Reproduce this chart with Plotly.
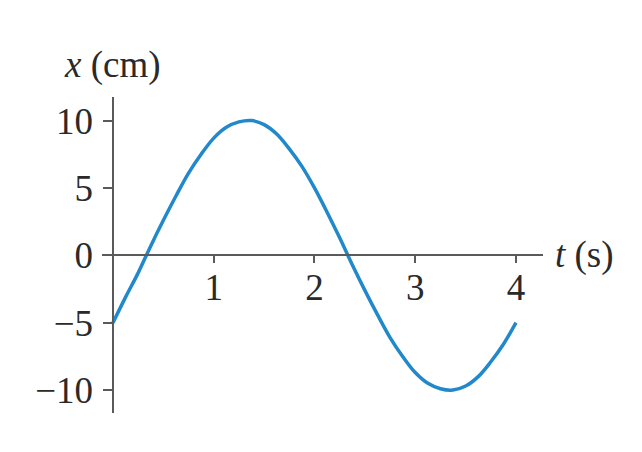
import plotly.graph_objects as go

t_s = [0, 0.125, 0.25, 0.375, 0.5, 0.625, 0.75, 0.875, 1.0,
       1.125, 1.25, 1.375, 1.5, 1.625, 1.75, 1.875, 2.0,
       2.125, 2.25, 2.375, 2.5, 2.625, 2.75, 2.875, 3.0,
       3.125, 3.25, 3.375, 3.5, 3.625, 3.75, 3.875, 4.0]
x_cm = [-5.0, -3.1, -1.3, 0.7, 2.6, 4.4, 6.1, 7.5, 8.7,
        9.5, 9.9, 10.0, 9.7, 9.0, 7.9, 6.6, 5.0,
        3.2, 1.3, -0.7, -2.6, -4.4, -6.1, -7.5, -8.7,
        -9.5, -9.9, -10.0, -9.7, -9.0, -7.9, -6.6, -5.0]

x_ticks = [1, 2, 3, 4]
y_ticks = [-10, -5, 0, 5, 10]

serif = "Liberation Serif, Times New Roman, serif"
axis_grey = "#5a5a5a"
text_col = "#2a2a2a"

fig = go.Figure()
fig.add_trace(go.Scatter(
    x=t_s, y=x_cm, mode="lines",
    line=dict(color="#2288cc", width=3.5, shape="spline", smoothing=1.0),
    hoverinfo="skip",
))

# page body adds an 8px offset, so the figure is 8px smaller and margins shifted
fig.update_layout(
    width=634, height=444,
    margin=dict(l=94, r=99, t=89, b=39, autoexpand=False),
    paper_bgcolor="white", plot_bgcolor="white",
    showlegend=False,
    font=dict(family=serif, size=37, color=text_col),
    xaxis=dict(
        range=[-0.109, 4.268], anchor="free", position=0.501,
        showgrid=False, zeroline=False, automargin=False,
        showline=True, linecolor=axis_grey, linewidth=1.6,
        ticks="outside", ticklen=8, tickwidth=1.6, tickcolor=axis_grey,
        tickvals=x_ticks, ticklabelstandoff=-8,
    ),
    yaxis=dict(
        range=[-11.7, 11.75], anchor="free", position=0.0256,
        showgrid=False, zeroline=False, automargin=False,
        showline=True, linecolor=axis_grey, linewidth=1.6,
        ticks="outside", ticklen=9, tickwidth=1.6, tickcolor=axis_grey,
        tickvals=y_ticks, ticklabelstandoff=3,
    ),
    annotations=[
        dict(text="<i>x</i> (cm)", x=-0.091, y=1.10, xref="paper", yref="paper",
             xanchor="left", yanchor="middle", showarrow=False,
             font=dict(family=serif, size=37, color=text_col)),
        dict(text="<i>t</i> (s)", x=1.023, y=0.501, xref="paper", yref="paper",
             xanchor="left", yanchor="middle", showarrow=False,
             font=dict(family=serif, size=37, color=text_col)),
    ],
)

fig.write_html("out.html")
